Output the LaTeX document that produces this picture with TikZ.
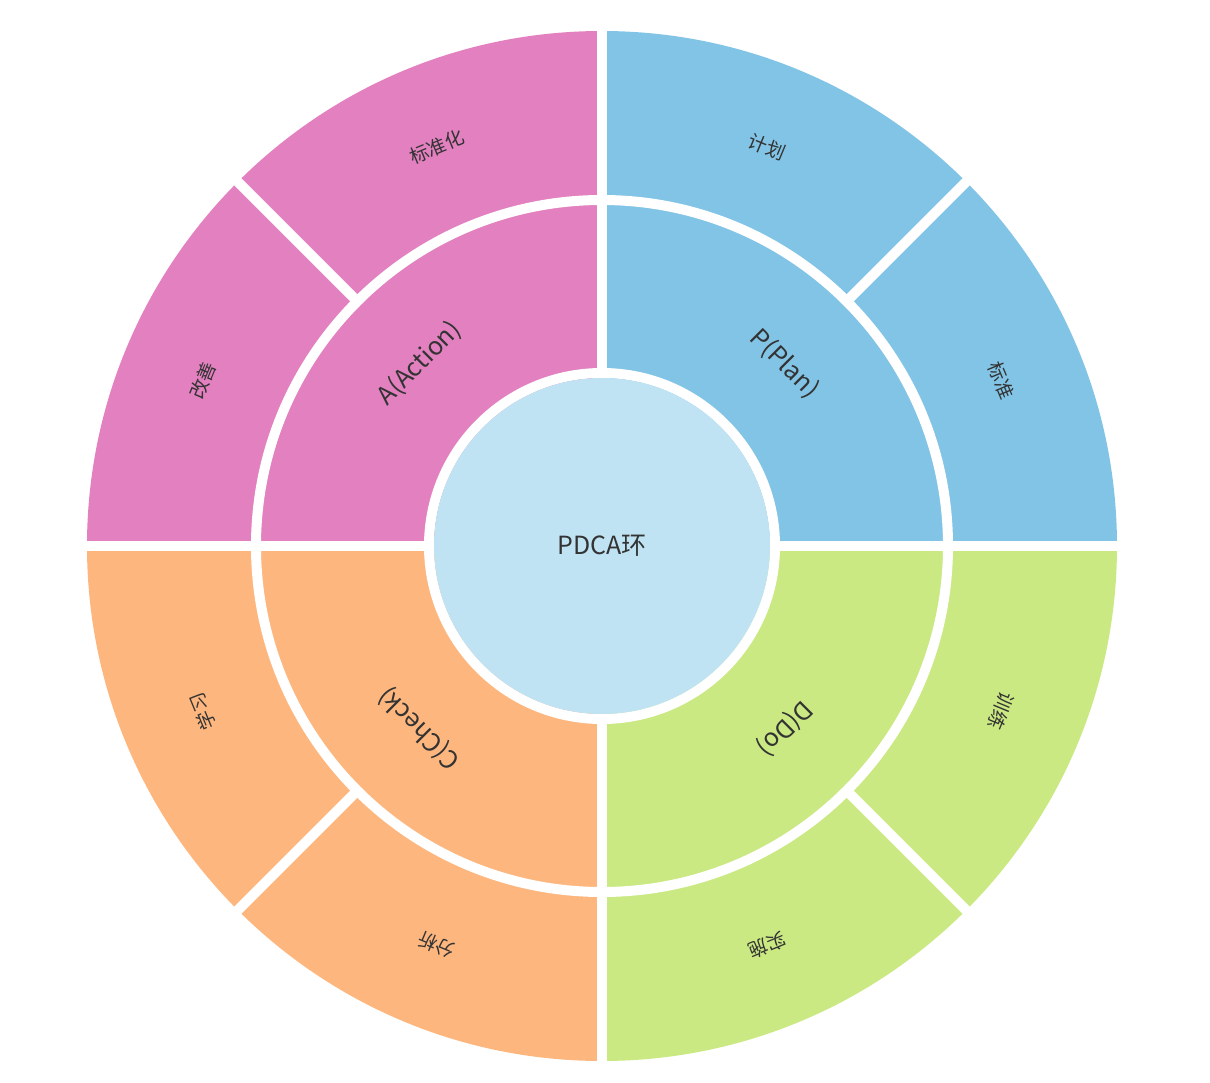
\documentclass[tikz,border=0pt]{standalone}
\usepackage{fontspec}
\setmainfont{Noto Sans CJK SC}
\definecolor{cP}{HTML}{82C4E6}
\definecolor{cD}{HTML}{CAE982}
\definecolor{cC}{HTML}{FDB77E}
\definecolor{cA}{HTML}{E280C0}
\definecolor{cM}{HTML}{C0E3F4}
\definecolor{tx}{HTML}{333333}
\begin{document}
\begin{tikzpicture}
\tikzset{mid/.style={text=tx,font=\fontsize{25}{25}\selectfont},
 outl/.style={text=tx,font=\fontsize{19}{19}\selectfont},
 gap/.style={white,line width=10pt}}
\useasboundingbox (-602pt,-536pt) rectangle (608pt,546pt);
\fill[cP] (0,0) -- (0:515pt) arc[start angle=0,end angle=90,radius=515pt] -- cycle;
\fill[cA] (0,0) -- (90:515pt) arc[start angle=90,end angle=180,radius=515pt] -- cycle;
\fill[cC] (0,0) -- (180:515pt) arc[start angle=180,end angle=270,radius=515pt] -- cycle;
\fill[cD] (0,0) -- (270:515pt) arc[start angle=270,end angle=360,radius=515pt] -- cycle;
\foreach \a in {0,90,180,270} \draw[gap] (0,0) -- (\a:530pt);
\foreach \a in {45,135,225,315} \draw[gap] (\a:346pt) -- (\a:530pt);
\draw[gap] (0,0) circle[radius=173pt];
\draw[gap] (0,0) circle[radius=346pt];
\fill[cM] (0,0) circle[radius=168pt];
\node[mid] (c) at (0,0) {PDCA环};
\node[mid,rotate=-45] (p) at (45:258pt) {P(Plan)};
\node[mid,rotate=45] (a) at (135:258pt) {A(Action)};
\node[mid,rotate=135] (k) at (225:258pt) {C(Check)};
\node[mid,rotate=225] (d) at (315:258pt) {D(Do)};
\node[outl,rotate=-67.5] (o1) at (22.5:432pt) {标准};
\node[outl,rotate=-22.5] (o2) at (67.5:432pt) {计划};
\node[outl,rotate=22.5] (o3) at (112.5:432pt) {标准化};
\node[outl,rotate=67.5] (o4) at (157.5:432pt) {改善};
\node[outl,rotate=112.5] (o5) at (202.5:432pt) {学习};
\node[outl,rotate=157.5] (o6) at (247.5:432pt) {分析};
\node[outl,rotate=202.5] (o7) at (292.5:432pt) {实施};
\node[outl,rotate=247.5] (o8) at (337.5:432pt) {训练};
\end{tikzpicture}
\end{document}
